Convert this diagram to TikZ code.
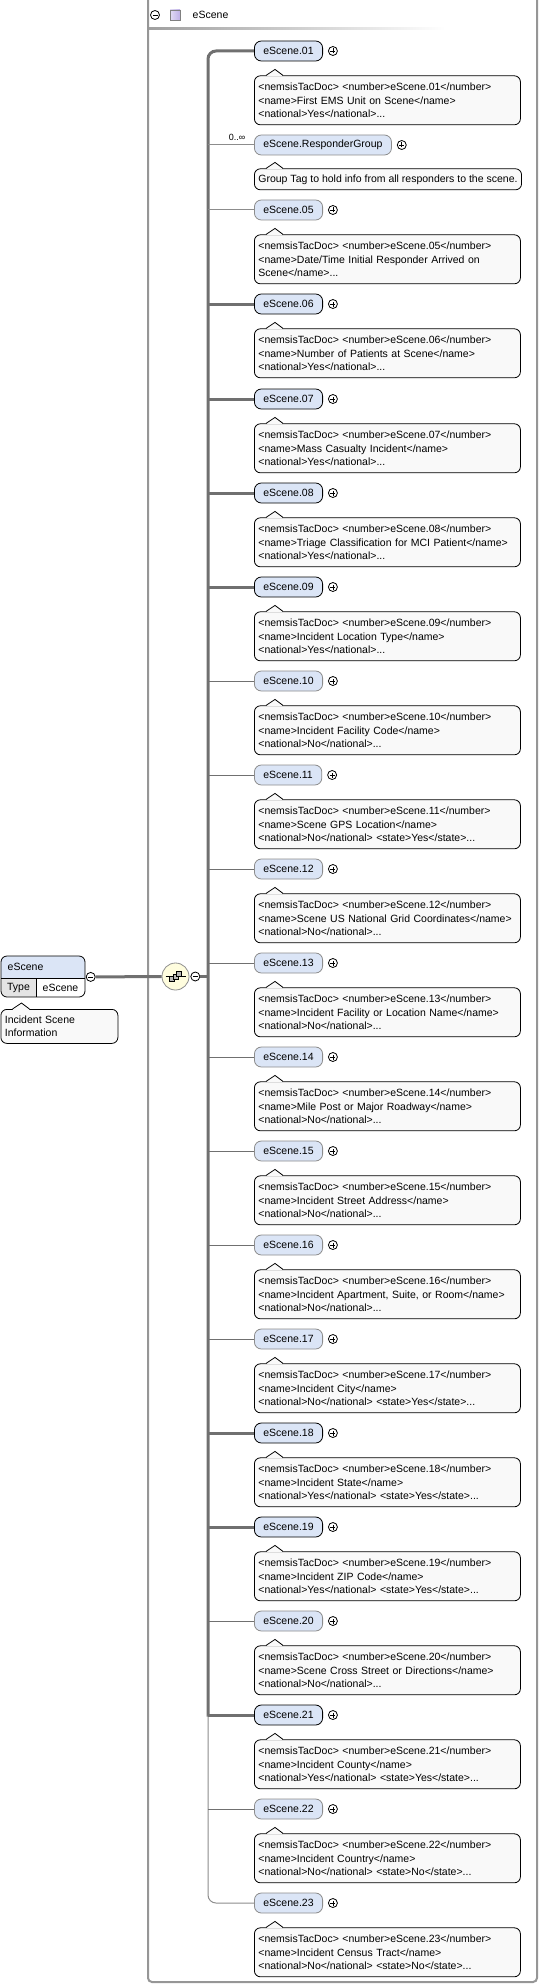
\documentclass[tikz,border=0pt]{standalone}
\usepackage{fontspec}
\setmainfont{Liberation Sans}
\usetikzlibrary{positioning, calc}
\definecolor{elemblue}{RGB}{219,229,246}
\definecolor{docgray}{RGB}{249,249,249}
\definecolor{linkgray}{RGB}{112,112,112}
\definecolor{thingray}{RGB}{140,140,140}
\definecolor{framegray}{RGB}{150,150,150}
\definecolor{seqyellow}{RGB}{255,253,222}
\definecolor{typegray}{RGB}{228,228,228}
\definecolor{iconlilac}{RGB}{190,176,230}

\newcommand{\stYes}{ <state>Yes</state>}
\newcommand{\stNo}{ <state>No</state>}
\newcommand{\stNone}{}
\newcommand{\docnotch}[1]{%
  \fill[docgray] ($(#1.north west)+(12,0.8)$) -- ($(#1.north west)+(21,-6)$) -- ($(#1.north west)+(29,0.8)$) -- cycle;
  \draw ($(#1.north west)+(12,0)$) -- ($(#1.north west)+(21,-6)$) -- ($(#1.north west)+(29,0)$);}

\begin{document}
\begin{tikzpicture}[x=1pt, y=-1pt, line width=0.8pt,
    elem/.style={draw=#1, fill=elemblue, rounded corners=7pt, inner xsep=9pt,
                 inner ysep=0pt, minimum height=20pt, font=\fontsize{10.5}{12}\selectfont},
    doc/.style={draw=black, fill=docgray, rounded corners=6pt, inner xsep=4pt,
                inner ysep=3pt, align=left, font=\fontsize{10.5}{13.5}\selectfont},
    plusbtn/.style={circle, draw=black, fill=white, inner sep=0pt, minimum size=9pt,
      path picture={\draw[line width=0.6pt]
        ([xshift=-2.5pt]path picture bounding box.center) -- ([xshift=2.5pt]path picture bounding box.center)
        ([yshift=-2.5pt]path picture bounding box.center) -- ([yshift=2.5pt]path picture bounding box.center);}},
    minusbtn/.style={circle, draw=black, fill=white, inner sep=0pt, minimum size=9pt,
      path picture={\draw[line width=0.6pt]
        ([xshift=-2.5pt]path picture bounding box.center) -- ([xshift=2.5pt]path picture bounding box.center);}},
    link/.style={draw=linkgray},
    thinlink/.style={draw=thingray, line width=1pt},
    frame/.style={draw=framegray, line width=2pt, rounded corners=4pt},
    lbl/.style={font=\fontsize{10.5}{13.5}\selectfont}
  ]
    \useasboundingbox (0,0) rectangle (540,1985);

    % Outer group frame
    \draw[frame] (148,-4) -- (148,1982) -- (537,1982) -- (537,-4);
    \node[minusbtn] (hdrminus) at (155,15) {};
    \node[draw=gray, minimum size=10pt, inner sep=0pt, left color=iconlilac!45,
          right color=iconlilac] (hdricon) at (175,15) {};
    \node[lbl, anchor=west] (hdrname) at (189,15) {eScene};
    \shade[left color=gray!75, right color=white] (149,28) rectangle (445,30);

    % Root element
    \begin{scope}
      \clip[rounded corners=6pt] (1,956) rectangle (85,997);
      \fill[elemblue] (1,956) rectangle (85,978);
      \fill[typegray] (1,978) rectangle (36,997);
      \fill[white] (36,978) rectangle (85,997);
    \end{scope}
    \draw[rounded corners=6pt] (1,956) rectangle (85,997);
    \draw (1,978) -- (85,978) (36,978) -- (36,997);
    \node[inner sep=0pt, minimum width=84pt, minimum height=41pt, anchor=north west] (root) at (1,956) {};
    \node[lbl, anchor=west] (rootname) at (4,967) {eScene};
    \node[lbl] (roottype) at (18.5,987.5) {Type};
    \node[lbl] (rootval) at (60.5,987.5) {eScene};
    \node[doc, text width=109pt, minimum height=34pt, anchor=north west] (rootdoc) at (0.5,1009)
      {Incident Scene\\Information};
    \docnotch{rootdoc}

    % Sequence compositor
    \node[minusbtn, right=0pt of root] (rootminus) {};
    \node[circle, draw=thingray, fill=seqyellow, minimum size=27pt, inner sep=0pt] (seq) at (175.5,976.5) {};
    \node[minusbtn, right=1pt of seq] (seqminus) {};
    \coordinate (tseq) at (208,976.5);
    \draw[link, line width=3pt] (rootminus) -- (seq);
    \draw[link, line width=3pt] (seqminus) -- (tseq);
    \draw[line width=0.6pt] ($(seq.center)+(-10,0)$) -- ($(seq.center)+(10,0)$);
    \foreach \dx/\dy in {-3.5/2.5, 0/0, 3.5/-2.5}
      \filldraw[fill=gray!55, draw=black, line width=0.5pt]
        ($(seq.center)+(\dx-2.7,\dy-2.7)$) rectangle ($(seq.center)+(\dx+2.7,\dy+2.7)$);

    % Sequence trunk
    \coordinate (t01) at (208,51);
    \coordinate (t21) at (208,1715);
    \draw[link, line width=3pt, rounded corners=8pt] (254,51) -| ($(t21)+(0,1.5)$);
    \draw[thinlink, rounded corners=8pt] (t21) |- (254,1903);

    % Child elements
    \foreach \n/\y/\lw/\bc/\nm/\nat/\sta in {
        01/51/3pt/black/First EMS Unit on Scene/Yes/\stNone,
        06/304/3pt/black/Number of Patients at Scene/Yes/\stNone,
        07/399/3pt/black/Mass Casualty Incident/Yes/\stNone,
        08/493/3pt/black/Triage Classification for MCI Patient/Yes/\stNone,
        09/587/3pt/black/Incident Location Type/Yes/\stNone,
        10/681/1pt/thingray/Incident Facility Code/No/\stNone,
        11/775/1pt/thingray/Scene GPS Location/No/\stYes,
        12/869/1pt/thingray/Scene US National Grid Coordinates/No/\stNone,
        13/963/1pt/thingray/Incident Facility or Location Name/No/\stNone,
        14/1057/1pt/thingray/Mile Post or Major Roadway/No/\stNone,
        15/1151/1pt/thingray/Incident Street Address/No/\stNone,
        16/1245/1pt/thingray/{Incident Apartment, Suite, or Room}/No/\stNone,
        17/1339/1pt/thingray/Incident City/No/\stYes,
        18/1433/3pt/black/Incident State/Yes/\stYes,
        19/1527/3pt/black/Incident ZIP Code/Yes/\stYes,
        20/1621/1pt/thingray/Scene Cross Street or Directions/No/\stNone,
        21/1715/3pt/black/Incident County/Yes/\stYes,
        22/1809/1pt/thingray/Incident Country/No/\stNo,
        23/1903/1pt/thingray/Incident Census Tract/No/\stNo} {
      \node[elem=\bc, anchor=west] (e\n) at (254,\y) {eScene.\n};
      \node[plusbtn, right=5pt of e\n] (p\n) {};
      \node[doc, text width=258pt, minimum height=49pt, below right=14pt and 0pt of e\n.south west] (d\n)
        {<nemsisTacDoc> <number>eScene.\n</number>\\<name>\nm</name>\\<national>\nat</national>\sta...};
      \docnotch{d\n}
      \coordinate (t\n) at (208,\y);
      \ifnum\n=1 \else\ifnum\n=23 \else
        \draw[link, line width=\lw] (t\n) -- (e\n.west);
      \fi\fi
    }

    % Responder group
    \node[elem=thingray, anchor=west] (eRG) at (254,145) {eScene.ResponderGroup};
    \node[plusbtn, right=5pt of eRG] (pRG) {};
    \node[doc, minimum height=21pt, below right=13pt and 0pt of eRG.south west] (dRG)
      {Group Tag to hold info from all responders to the scene.};
    \docnotch{dRG}
    \coordinate (tRG) at (208,145);
    \draw[thinlink] (tRG) -- (eRG.west);
    \node[font=\fontsize{9}{10}\selectfont] (mRG) at (237,137) {0..∞};

    % Element 05
    \node[elem=thingray, anchor=west] (e05) at (254,210) {eScene.05};
    \node[plusbtn, right=5pt of e05] (p05) {};
    \node[doc, text width=258pt, minimum height=49pt, below right=14pt and 0pt of e05.south west] (d05)
      {<nemsisTacDoc> <number>eScene.05</number>\\<name>Date/Time Initial Responder Arrived on\\Scene</name>...};
    \docnotch{d05}
    \coordinate (t05) at (208,210);
    \draw[thinlink] (t05) -- (e05.west);
\end{tikzpicture}
\end{document}
